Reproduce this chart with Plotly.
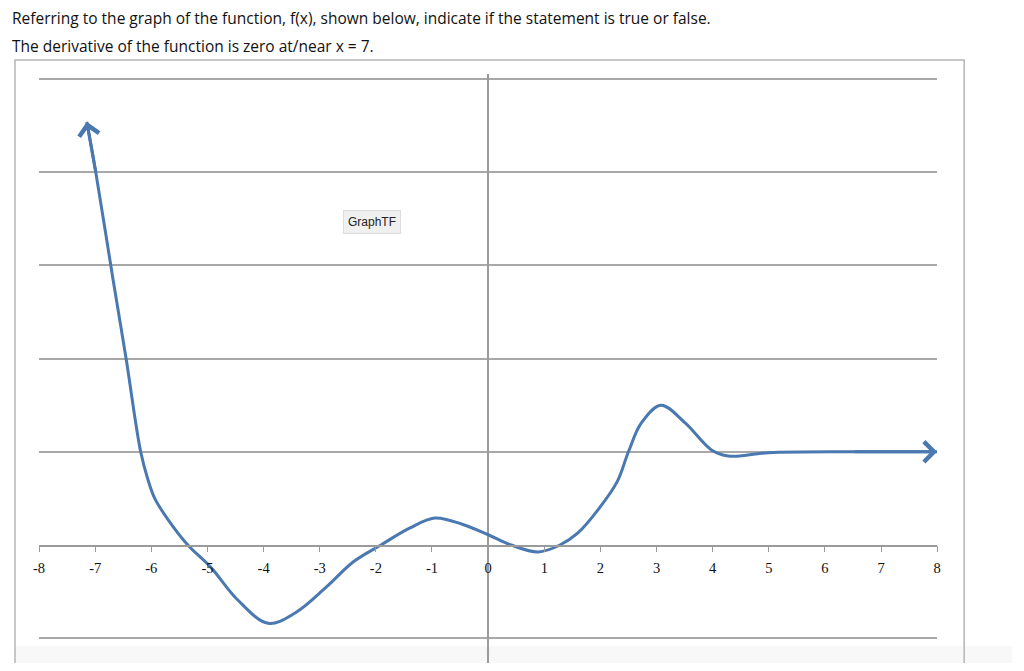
import plotly.graph_objects as go

# points
x_vals = [-7.15, -6.99, -6.68, -6.45, -6.19, -6.06, -5.94, -5.70, -5.35, -4.94, -4.46,
          -3.92, -3.44, -2.88, -2.40, -1.91, -1.40, -0.95, -0.45, 0.0, 0.41,
          0.89, 1.28, 1.60, 1.96, 2.30, 2.50, 2.73, 3.08, 3.51, 3.98,
          4.28, 4.99, 6.5, 8.0]
y_vals = [4.54, 4.0, 2.84, 2.0, 1.0, 0.70, 0.50, 0.27, 0.0, -0.24, -0.59,
          -0.84, -0.73, -0.45, -0.18, 0.0, 0.18, 0.29, 0.22, 0.11, 0.0,
          -0.075, 0.0, 0.13, 0.38, 0.68, 1.0, 1.31, 1.50, 1.31, 1.02,
          0.955, 0.99, 1.0, 1.0]

x_ticks = list(range(-8, 9))
tick_labels = [str(t) for t in x_ticks]
grid_vals = [-1, 1, 2, 3, 4, 5]

question = "Referring to the graph of the function, f(x), shown below, indicate if the statement is true or false."
statement = "The derivative of the function is zero at/near x = 7."
button_text = "GraphTF"

# page is drawn with an 8px body margin, so keep the figure inside the window
OFF = 8
W, H = 1024 - 2 * OFF, 671 - 2 * OFF
blue = "#4a78b0"


def px(v):
    # screen x comes out slightly squeezed, undo that
    return ((v - 7) / 0.99 - OFF) / W


def py(v):
    return 1 - (v - OFF) / H


fig = go.Figure()
fig.add_trace(go.Scatter(x=x_vals, y=y_vals, mode="lines",
                         line=dict(color=blue, width=3, shape="spline", smoothing=1.0),
                         cliponaxis=False, hoverinfo="skip"))

# arrow heads at both ends of the curve
for tip, prev in [(0, 1), (-1, -2)]:
    fig.add_annotation(x=x_vals[tip], y=y_vals[tip], ax=x_vals[prev], ay=y_vals[prev],
                       xref="x", yref="y", axref="x", ayref="y", text="",
                       showarrow=True, arrowhead=4, arrowsize=1.3, arrowwidth=3,
                       arrowcolor=blue)

fig.add_annotation(x=-4 / W, y=py(18), xref="paper", yref="paper", text=question,
                   showarrow=False, xanchor="left", yanchor="middle",
                   font=dict(family="Open Sans", size=15.5, color="#111"))
fig.add_annotation(x=-4 / W, y=py(46), xref="paper", yref="paper", text=statement,
                   showarrow=False, xanchor="left", yanchor="middle",
                   font=dict(family="Open Sans", size=15.5, color="#111"))
fig.add_annotation(x=px(373), y=py(221.5), xref="paper", yref="paper", text=button_text,
                   showarrow=False, xanchor="center", yanchor="middle",
                   bgcolor="#f0f0f0", bordercolor="#dcdcdc", borderwidth=1,
                   borderpad=4, font=dict(family="Liberation Sans", size=12, color="#222"))

# outer box and the light band at the bottom
fig.add_shape(type="rect", xref="paper", yref="paper", x0=0, x1=1, y0=-0.05, y1=py(646),
              fillcolor="#f8f8f8", line_width=0, layer="below")
fig.add_shape(type="rect", xref="paper", yref="paper", x0=1 / W, x1=px(965),
              y0=-0.05, y1=py(60), line=dict(color="#b5b5b5", width=1.5), layer="below")

unit = 93.2
top = 5.05
fig.update_xaxes(range=[-8, 8], domain=[px(40), px(938)], anchor="free",
                 position=py(545.5), tickvals=x_ticks, ticktext=tick_labels,
                 ticks="outside", ticklen=6, ticklabelstandoff=3,
                 tickcolor="#9a9a9a", showline=True, linecolor="#9a9a9a", linewidth=1.5,
                 showgrid=False, zeroline=True, zerolinecolor="#9a9a9a", zerolinewidth=1.5,
                 tickfont=dict(family="Liberation Serif", size=14.5, color="#111"))
fig.update_yaxes(range=[-(OFF + H - 545) / unit, top],
                 domain=[0, py(545 - top * unit)], tickvals=grid_vals,
                 showticklabels=False, showgrid=True, gridcolor="#a8a8a8", gridwidth=1.5,
                 zeroline=False, showline=False)

fig.update_layout(width=W, height=H, margin=dict(l=0, r=0, t=0, b=0),
                  paper_bgcolor="white", plot_bgcolor="rgba(0,0,0,0)", showlegend=False)

fig.write_html("out.html")
